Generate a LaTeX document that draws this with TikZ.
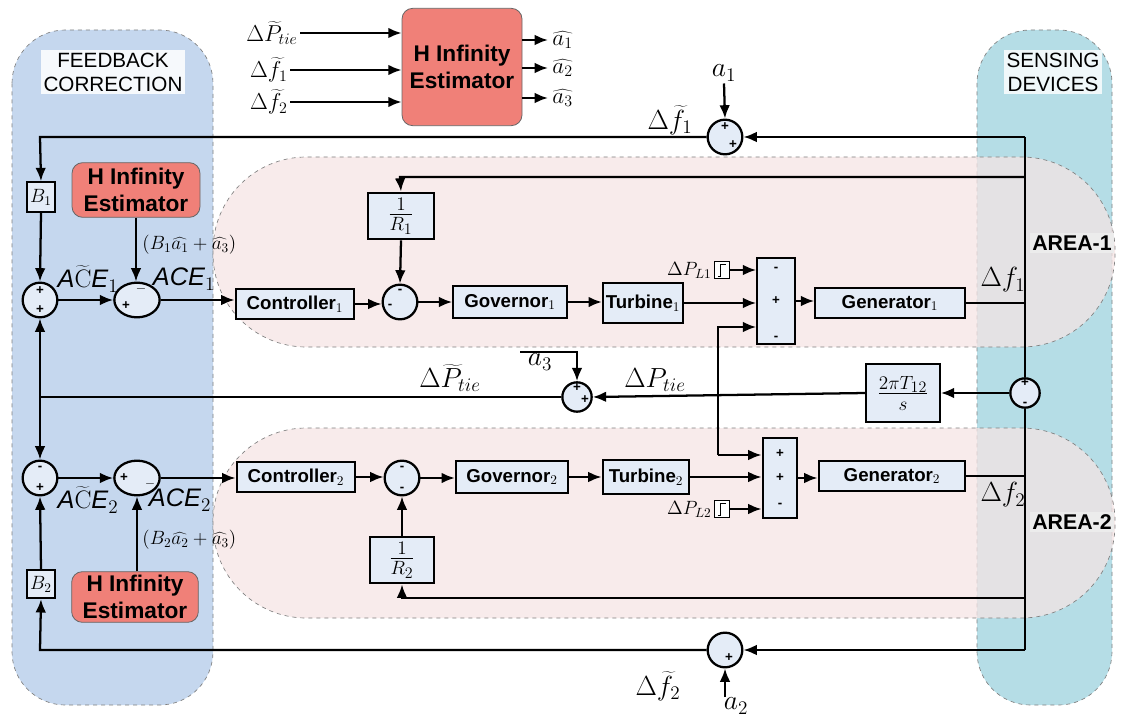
\documentclass[tikz,border=0pt]{standalone}
\usepackage{fontspec}
\setsansfont{Liberation Sans}
\usetikzlibrary{arrows.meta,shapes.geometric}
\definecolor{fbblue}{HTML}{C5D7EE}
\definecolor{sensb}{HTML}{B5DDE6}
\definecolor{areap}{HTML}{F5E4E4}
\definecolor{hinf}{HTML}{F08078}
\definecolor{blkf}{HTML}{E4ECF7}
\begin{document}
\begin{tikzpicture}[x=0.75pt,y=-0.75pt,
  >={Latex[length=10pt,width=8pt]},
  every path/.style={line width=1.7pt},
  blk/.style={draw,fill=blkf,font=\sffamily\bfseries\fontsize{14}{16}\selectfont,inner sep=1pt},
  hi/.style={draw=black!60,line width=0.6pt,fill=hinf,rounded corners=8pt,font=\sffamily\bfseries\fontsize{17}{20}\selectfont,align=center,inner sep=1pt},
  sm/.style={draw,fill=blkf,circle,minimum size=26pt,inner sep=0pt},
  el/.style={draw,fill=blkf,ellipse,minimum width=34pt,minimum height=26pt,inner sep=0pt},
  sg/.style={font=\sffamily\bfseries\normalsize,inner sep=0pt},
  lab/.style={font=\LARGE,inner sep=1pt},
  pane/.style={draw=black!50,dashed,line width=0.5pt,rounded corners=40pt},
  ttl/.style={fill=white!85!fbblue,font=\sffamily\fontsize{15.5}{18}\selectfont,align=center,inner sep=2pt},
  area/.style={fill=areap,fill opacity=0.75,draw=black!50,dashed,line width=0.5pt,rounded corners=70pt}]
\useasboundingbox (0,0) rectangle (1126,720);
% panels
\fill[fbblue] (12,30) [rounded corners=40pt] rectangle (213,705);
\draw[pane] (12,30) rectangle (213,705);
\fill[sensb] (977,30) [rounded corners=40pt] rectangle (1112,705);
\draw[pane] (977,30) rectangle (1112,705);
% area regions
\path[area] (213,157) rectangle (1115,347);
\path[area] (213,428) rectangle (1115,618);
\node[ttl] (fbt) at (113,72) {FEEDBACK\\CORRECTION};
\node[ttl,fill=white!80!sensb] (sdt) at (1053,72) {SENSING\\DEVICES};
\node[ttl,fill=white!85!gray,font=\sffamily\bfseries\fontsize{16}{18}\selectfont] (a1t) at (1072,243) {AREA-1};
\node[ttl,fill=white!85!gray,font=\sffamily\bfseries\fontsize{16}{18}\selectfont] (a2t) at (1072,522) {AREA-2};
% top estimator
\node[hi,minimum width=90pt,minimum height=88pt] (ht) at (462,67) {H Infinity\\Estimator};
\node[lab,anchor=east] (ip) at (300,33) {$\Delta\widetilde{P}_{tie}$};
\node[lab,anchor=east] (if1) at (290,70) {$\Delta\widetilde{f}_1$};
\node[lab,anchor=east] (if2) at (290,102) {$\Delta\widetilde{f}_2$};
\draw[->] (ip.east) -- (ip.east -| ht.west);
\draw[->] (if1.east) -- (if1.east -| ht.west);
\draw[->] (if2.east) -- (if2.east -| ht.west);
\coordinate (o1) at (548,40); \coordinate (o2) at (548,68); \coordinate (o3) at (548,98);
\draw[->] (ht.east |- o1) -- (o1); \draw[->] (ht.east |- o2) -- (o2); \draw[->] (ht.east |- o3) -- (o3);
\node[lab,anchor=west] (oa1) at (550,40) {$\widehat{a_1}$};
\node[lab,anchor=west] (oa2) at (550,68) {$\widehat{a_2}$};
\node[lab,anchor=west] (oa3) at (550,98) {$\widehat{a_3}$};
% sensing line
\coordinate (sTop) at (1025,137); \coordinate (sR) at (1025,177);
\coordinate (sBot) at (1025,650); \coordinate (sR2) at (1025,598);
\node[sm,minimum size=22pt] (sr) at (1025,393) {};
\node[sg] at (1025,383) {+}; \node[sg] at (1025,404) {-};
\draw (sTop) -- (sr.north); \draw (sr.south) -- (sBot);
% a1 feedback
\node[sm] (c1) at (725,137) {};
\node[sg] at (725,127) {+}; \node[sg] at (733,145) {+};
\node[lab,font=\huge] (a1) at (724,73) {$a_1$};
\draw[->] (a1.south) -- (c1.north);
\node[lab,font=\huge] at (670,120) {$\Delta\widetilde{f}_1$};
\draw[->] (sTop) -- (c1.east);
\node[blk,font=\Large\mdseries,minimum width=21pt,minimum height=22pt] (b1) at (41,197) {$B_1$};
\draw[->] (c1.west) -- (40,137) -- (b1.north);
% area 1
\node[sm] (s1) at (40,300) {};
\node[sg] at (40,291) {+}; \node[sg] at (40,310) {+};
\node[el] (e1) at (137,300) {};
\node[sg] at (126,306) {+}; \node[sg] at (141,289) {$-$};
\node[hi,minimum width=96pt,minimum height=41pt] (h1) at (136,190) {H Infinity\\Estimator};
\node[lab,anchor=west,font=\Large] at (140,245) {$(B_1\widehat{a_1}+\widehat{a_3})$};
\draw[->] (b1.south) -- (s1.north);
\draw[->] (h1.south) -- (h1.south |- e1.north);
\draw[->] (s1.east) -- (e1.west);
\node[lab,font=\sffamily\itshape\fontsize{19}{21}\selectfont] at (88,279) {A$\widetilde{\mathrm{C}}$E$_1$};
\node[lab,font=\sffamily\itshape\fontsize{19}{21}\selectfont] at (184,279) {ACE$_1$};
\node[blk,minimum width=89pt,minimum height=23pt] (ct1) at (295,304) {Controller$_1$};
\draw[->] (e1.east) -- (ct1.west |- e1.east);
\node[sm] (f1) at (400,302) {};
\node[sg] at (400,291) {-}; \node[sg] at (390,306) {-};
\node[blk,font=\huge\mdseries,minimum width=50pt,minimum height=35pt] (r1) at (401,216) {$\frac{1}{R_1}$};
\draw[->] (sR) -- (400,177) -- (r1.north);
\draw[->] (r1.south) -- (f1.north);
\draw[->] (ct1.east) -- (f1.west |- ct1.east);
\node[blk,minimum width=85pt,minimum height=24pt] (g1) at (510,302) {Governor$_1$};
\node[blk,minimum width=60pt,minimum height=30pt] (t1) at (643,303) {Turbine$_1$};
\node[blk,minimum width=28pt,minimum height=65pt] (bar1) at (776,301) {};
\node[sg] at (776,269) {-}; \node[sg] at (776,301) {+}; \node[sg] at (776,338) {-};
\node[blk,minimum width=112pt,minimum height=22.5pt] (gn1) at (890,303) {Generator$_1$};
\draw[->] (f1.east) -- (g1.west |- f1.east);
\draw[->] (g1.east) -- (t1.west |- g1.east);
\draw[->] (t1.east) -- (bar1.west |- t1.east);
\draw[->] (bar1.east) -- (gn1.west |- bar1.east);
\draw (gn1.east) -- (1025,303);
\node[lab,font=\huge] at (1003,280) {$\Delta f_1$};
\node[draw,line width=1.2pt,fill=white,minimum width=11pt,minimum height=13pt,inner sep=0pt] (st1) at (722,270) {};
\draw[line width=1pt] ([xshift=-3pt,yshift=-5pt]st1.center) -- ([xshift=-1pt,yshift=-5pt]st1.center) -- ([xshift=-1pt,yshift=4pt]st1.center) -- ([xshift=3pt,yshift=4pt]st1.center);
\node[lab,anchor=east,font=\Large] at (st1.west) {$\Delta P_{L1}$};
\draw[->] (st1.east) -- (bar1.west |- st1.east);
% tie line
\node[blk,font=\huge\mdseries,minimum width=55pt,minimum height=43pt] (tb) at (903,393) {$\frac{2\pi T_{12}}{s}$};
\draw[->] (sr.west) -- (tb.east);
\node[sm,minimum size=22pt] (c3) at (577,397) {};
\node[sg] at (577,388) {+}; \node[sg] at (585,400) {+};
\draw[->] (tb.west) -- (c3.east);
\node[lab,font=\huge] at (655,380) {$\Delta P_{tie}$};
\node[lab,font=\huge] (a3) at (540,362) {$a_3$};
\draw[->] (520,352) -- (577,352) -- (c3.north);
\node[lab,font=\huge] at (450,378) {$\Delta\widetilde{P}_{tie}$};
\draw (c3.west) -- (40,397);
\node[sm] (s2) at (40,478) {};
\node[sg] at (40,468) {-}; \node[sg] at (40,488) {+};
\draw[->] (40,397) -- (s1.south);
\draw[->] (40,397) -- (s2.north);
\node[blk,minimum width=26pt,minimum height=60pt] (bar2) at (780,478) {};
\node[sg] at (780,454) {+}; \node[sg] at (780,478) {+}; \node[sg] at (780,505) {-};
\draw[->] (718,455) -- (bar2.west |- 0,455);
\draw[->] (718,455) -- (718,327) -- (bar1.west |- 0,327);
% area 2
\node[el] (e2) at (137,478) {};
\node[sg] at (124,478) {+}; \node[sg] at (150,483) {\_};
\draw[->] (s2.east) -- (e2.west);
\node[lab,font=\sffamily\itshape\fontsize{19}{21}\selectfont] at (88,500) {A$\widetilde{\mathrm{C}}$E$_2$};
\node[lab,font=\sffamily\itshape\fontsize{19}{21}\selectfont] at (180,500) {ACE$_2$};
\node[hi,minimum width=95pt,minimum height=38pt] (h2) at (135,597) {H Infinity\\Estimator};
\draw[->] (h2.north -| e2.south) -- (e2.south);
\node[lab,anchor=west,font=\Large] at (140,540) {$(B_2\widehat{a_2}+\widehat{a_3})$};
\node[blk,minimum width=89pt,minimum height=23pt] (ct2) at (296,477) {Controller$_2$};
\draw[->] (e2.east) -- (ct2.west |- e2.east);
\node[sm] (f2) at (402,478) {};
\node[sg] at (402,468) {-}; \node[sg] at (402,489) {-};
\draw[->] (ct2.east) -- (f2.west |- ct2.east);
\node[blk,minimum width=84pt,minimum height=24pt] (g2) at (512,477) {Governor$_2$};
\node[blk,minimum width=65pt,minimum height=25pt] (t2) at (646,477) {Turbine$_2$};
\node[blk,minimum width=110pt,minimum height=22pt] (gn2) at (892,476) {Generator$_2$};
\draw[->] (f2.east) -- (g2.west |- f2.east);
\draw[->] (g2.east) -- (t2.west |- g2.east);
\draw[->] (t2.east) -- (bar2.west |- t2.east);
\draw[->] (bar2.east) -- (gn2.west |- bar2.east);
\draw (gn2.east) -- (1025,476);
\node[lab,font=\huge] at (1003,495) {$\Delta f_2$};
\node[draw,line width=1.2pt,fill=white,minimum width=11pt,minimum height=13pt,inner sep=0pt] (st2) at (722,509) {};
\draw[line width=1pt] ([xshift=-3pt,yshift=-5pt]st2.center) -- ([xshift=-1pt,yshift=-5pt]st2.center) -- ([xshift=-1pt,yshift=4pt]st2.center) -- ([xshift=3pt,yshift=4pt]st2.center);
\node[lab,anchor=east,font=\Large] at (st2.west) {$\Delta P_{L2}$};
\draw[->] (st2.east) -- (bar2.west |- st2.east);
\node[blk,font=\huge\mdseries,minimum width=48pt,minimum height=35pt] (r2) at (402,560) {$\frac{1}{R_2}$};
\draw[->] (sR2) -- (402,598) -- (r2.south);
\draw[->] (r2.north) -- (f2.south);
% bottom feedback
\node[blk,font=\Large\mdseries,minimum width=21pt,minimum height=21pt] (b2) at (41,584) {$B_2$};
\node[sm] (c2) at (725,650) {};
\node[sg] at (729,658) {+};
\draw[->] (sBot) -- (c2.east);
\draw[->] (c2.west) -- (40,650) -- (b2.south);
\draw[->] (b2.north) -- (s2.south);
\node[lab,font=\huge] (a2) at (736,706) {$a_2$};
\draw[->] (725,697) -- (c2.south);
\node[lab,font=\huge] at (658,686) {$\Delta\widetilde{f}_2$};
\end{tikzpicture}
\end{document}
